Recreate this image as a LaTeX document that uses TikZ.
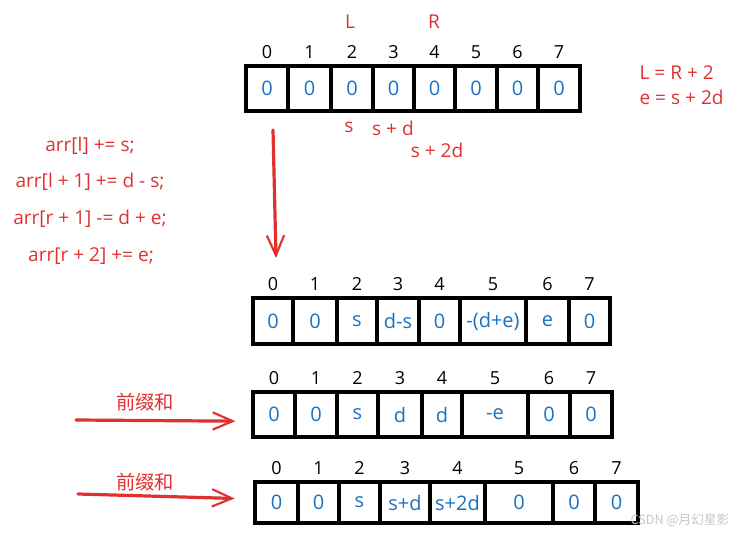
\documentclass[tikz,border=0pt]{standalone}
\usepackage{fontspec}
\setmainfont{Open Sans}
\newfontfamily\cjkfont{Noto Sans CJK SC}
\usetikzlibrary{positioning,arrows.meta}

\begin{document}
\begin{tikzpicture}[x=0.75pt, y=-0.75pt,
    cell/.style={draw=black, line width=2.5pt, inner sep=0pt, text=valblue,
        font=\fontsize{15}{17}\selectfont},
    idx/.style={inner sep=1pt, font=\fontsize{13.5}{15}\selectfont},
    note/.style={inner sep=1pt, text=markred, font=\fontsize{14.3}{19}\selectfont},
    redarrow/.style={draw=markred, line width=2.4pt, line cap=round,
        -{Straight Barb[length=15pt, width=13pt, line width=1.6pt]}}]
    % Colors from the sketch
    \definecolor{markred}{RGB}{224, 49, 49}
    \definecolor{valblue}{RGB}{25, 113, 194}

    \useasboundingbox (0,0) rectangle (738,534);

    % Starting array
    \foreach \i/\xa/\xb/\val in {0/246/288/0, 1/288/331/0, 2/331/373/0, 3/373/414/0,
                                 4/414/455/0, 5/455/497/0, 6/497/538/0, 7/538/580/0} {
        \node[cell, minimum width={(\xb-\xa)*0.75pt}, minimum height=33.75pt]
            (a\i) at ({(\xa+\xb)/2}, 88.5) {\val};
        \node[idx, above=3pt of a\i] (ia\i) {\i};
    }
    \node[note] (lpos) at (350,22) {L};
    \node[note] (rpos) at (434,22) {R};
    \node[note] (sval) at (349,127) {s};
    \node[note] (sdval) at (393,128) {s + d};
    \node[note] (s2dval) at (437,150) {s + 2d};

    \node[note, align=left, anchor=west] (rel) at (638,85) {L = R + 2\\e = s + 2d};

    % Update rules
    \node[note] (upd1) at (90,146) {arr[l] += s;};
    \node[note] (upd2) at (90,182) {arr[l + 1] += d - s;};
    \node[note] (upd3) at (90,219) {arr[r + 1] -= d + e;};
    \node[note] (upd4) at (91,256) {arr[r + 2] += e;};

    \coordinate (downtop) at (273,130);
    \coordinate (downtip) at (276,258);
    \draw[redarrow] (downtop) -- (downtip);

    % Difference array
    \foreach \i/\xa/\xb/\val in {0/253/293/0, 1/293/337/0, 2/337/377/s, 3/377/419/d-s,
                                 4/419/460/0, 5/460/526/{-(d+e)}, 6/526/569/e, 7/569/610/0} {
        \node[cell, minimum width={(\xb-\xa)*0.75pt}, minimum height=34.5pt]
            (b\i) at ({(\xa+\xb)/2}, 321) {\val};
        \node[idx, above=3pt of b\i] (ib\i) {\i};
    }

    % First prefix sum
    \foreach \i/\xa/\xb/\val in {0/253/295/0, 1/295/337/0, 2/337/378/s, 3/378/422/d,
                                 4/422/462/d, 5/462/528/-e, 6/528/570/0, 7/570/612/0} {
        \node[cell, minimum width={(\xb-\xa)*0.75pt}, minimum height=33.75pt]
            (c\i) at ({(\xa+\xb)/2}, 414.5) {\val};
        \node[idx, above=3pt of c\i] (ic\i) {\i};
    }
    \coordinate (sumone) at (76,420);
    \draw[redarrow] (sumone) -- ([xshift=-12pt, yshift=-5pt]c0.west);
    \node[note, font=\cjkfont\fontsize{14.5}{16}\selectfont] (sumonelbl) at (145,402) {前缀和};

    % Second prefix sum
    \foreach \i/\xa/\xb/\val in {0/255/298/0, 1/298/339/0, 2/339/380/s, 3/380/430/s+d,
                                 4/430/485/s+2d, 5/485/553/0, 6/553/595/0, 7/595/638/0} {
        \node[cell, minimum width={(\xb-\xa)*0.75pt}, minimum height=30.75pt]
            (d\i) at ({(\xa+\xb)/2}, 502.5) {\val};
        \node[idx, above=3pt of d\i] (id\i) {\i};
    }
    \coordinate (sumtwo) at (78,494);
    \draw[redarrow] (sumtwo) -- ([xshift=-14pt, yshift=3pt]d0.west);
    \node[note, font=\cjkfont\fontsize{14.5}{16}\selectfont] (sumtwolbl) at (145,482) {前缀和};

    \node[text=gray!45, font=\cjkfont\fontsize{9.5}{11}\selectfont] (mark) at (680,520) {CSDN @月幻星影};
\end{tikzpicture}
\end{document}
